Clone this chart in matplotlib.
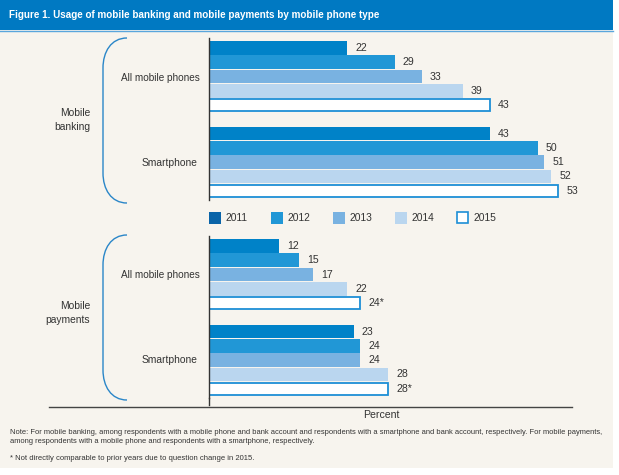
#!/usr/bin/env python3

import matplotlib
matplotlib.use("Agg")
import matplotlib.pyplot as plt
from matplotlib.patches import Rectangle, PathPatch
from matplotlib.path import Path

plt.rcParams['font.family'] = ['Liberation Sans Narrow', 'Liberation Sans', 'DejaVu Sans']

# data
years = ['2011', '2012', '2013', '2014', '2015']
phone_types = ['All mobile phones', 'Smartphone']
banking = {'All mobile phones': [22, 29, 33, 39, 43],
           'Smartphone': [43, 50, 51, 52, 53]}
payments = {'All mobile phones': [12, 15, 17, 22, 24],
            'Smartphone': [23, 24, 24, 28, 28]}
payment_labels = {'All mobile phones': ['12', '15', '17', '22', '24*'],
                  'Smartphone': ['23', '24', '24', '28', '28*']}

colors = ['#0082c8', '#2197d6', '#79b2e1', '#bad6ef', 'white']
edge_2015 = '#1d8fd6'
bg = '#f7f4ee'
txt = '#333333'

W, H = 619, 475
fig = plt.figure(figsize=(W / 100, H / 100), dpi=100)
fig.patch.set_facecolor('white')

# overlay axes in pixel coords for decoration
deco = fig.add_axes([0, 0, 1, 1])
deco.set_xlim(0, W)
deco.set_ylim(H, 0)
deco.axis('off')
deco.add_patch(Rectangle((0, 0), 613, 468, facecolor=bg, edgecolor='none'))
deco.add_patch(Rectangle((0, 0), 613, 30, facecolor='#0079c2', edgecolor='none'))
deco.plot([0, 613], [30.5, 30.5], color='#5aa6dc', lw=1)
deco.text(9, 15, 'Figure 1. Usage of mobile banking and mobile payments by mobile phone type',
          color='white', fontsize=7.1, fontweight='bold', va='center', ha='left')


def px_axes(left, top, right, bottom):
    return fig.add_axes([left / W, 1 - bottom / H, (right - left) / W, (bottom - top) / H])


def draw_panel(ax, data, labels=None):
    ax.set_facecolor('none')
    pos = 0
    for ptype in phone_types:
        for i, yr in enumerate(years):
            v = data[ptype][i]
            if yr == '2015':
                ax.barh(pos, v, height=0.86, left=0, color='white',
                        edgecolor=edge_2015, linewidth=1.3)
            else:
                ax.barh(pos, v, height=0.96, left=0, color=colors[i], edgecolor='none')
            lab = labels[ptype][i] if labels else str(v)
            ax.annotate(lab, (v, pos), xytext=(6, 0), textcoords='offset points',
                        va='center', ha='left', fontsize=7.6, color=txt)
            pos += 1
        pos += 1
    ax.set_xlim(1.76, 1.76 + 391 / 6.81)
    ax.set_ylim(10.65, -0.7)
    for s in ['top', 'right', 'bottom']:
        ax.spines[s].set_visible(False)
    ax.spines['left'].set_color('#333333')
    ax.spines['left'].set_linewidth(1)
    ax.set_xticks([])
    ax.set_yticks([])


ax1 = px_axes(209, 38, 600, 200)
draw_panel(ax1, banking)
ax2 = px_axes(209, 236, 600, 398)
draw_panel(ax2, payments, payment_labels)


def bracket(top, bottom):
    x0, x1 = 127, 103
    verts = [(x0, top), (111, top), (x1, top + 14), (x1, top + 30),
             (x1, bottom - 30), (x1, bottom - 14), (111, bottom), (x0, bottom)]
    codes = [Path.MOVETO, Path.CURVE4, Path.CURVE4, Path.CURVE4,
             Path.LINETO, Path.CURVE4, Path.CURVE4, Path.CURVE4]
    deco.add_patch(PathPatch(Path(verts, codes), facecolor='none', edgecolor='#2a86c8', lw=1))


bracket(38, 203)
bracket(235, 400)

# group labels
deco.text(90, 120, 'Mobile\nbanking', ha='right', va='center', fontsize=7.4, color=txt, linespacing=1.6)
deco.text(90, 313, 'Mobile\npayments', ha='right', va='center', fontsize=7.4, color=txt, linespacing=1.6)
for y in (78, 275):
    deco.text(200, y, phone_types[0], ha='right', va='center', fontsize=7.2, color=txt)
for y in (163, 360):
    deco.text(197, y, phone_types[1], ha='right', va='center', fontsize=7.4, color=txt)

# legend
for i, yr in enumerate(years):
    x = 209 + i * 62
    if yr == '2015':
        deco.add_patch(Rectangle((x, 212), 11, 11, facecolor='white', edgecolor=edge_2015, lw=1.2))
    else:
        c = '#0a64a8' if yr == '2011' else colors[i]
        deco.add_patch(Rectangle((x, 212), 12, 12, facecolor=c, edgecolor='none'))
    deco.text(x + 16, 218, yr, ha='left', va='center', fontsize=7.4, color=txt)

# bottom rule and axis label
deco.plot([49, 572], [407, 407], color='#444444', lw=1)
deco.plot([209, 209], [398, 405], color='#333333', lw=1)
deco.text(381, 415, 'Percent', ha='center', va='center', fontsize=7.6, color=txt)

note = ('Note: For mobile banking, among respondents with a mobile phone and bank account and respondents '
        'with a smartphone and bank account, respectively. For mobile payments,\n'
        'among respondents with a mobile phone and respondents with a smartphone, respectively.')
deco.text(10, 437, note, ha='left', va='center', fontsize=5.45, color=txt, linespacing=1.5)
deco.text(10, 459, '* Not directly comparable to prior years due to question change in 2015.',
          ha='left', va='center', fontsize=5.5, color=txt)

fig.savefig('out.png', dpi=100, facecolor=fig.get_facecolor())
plt.close(fig)
